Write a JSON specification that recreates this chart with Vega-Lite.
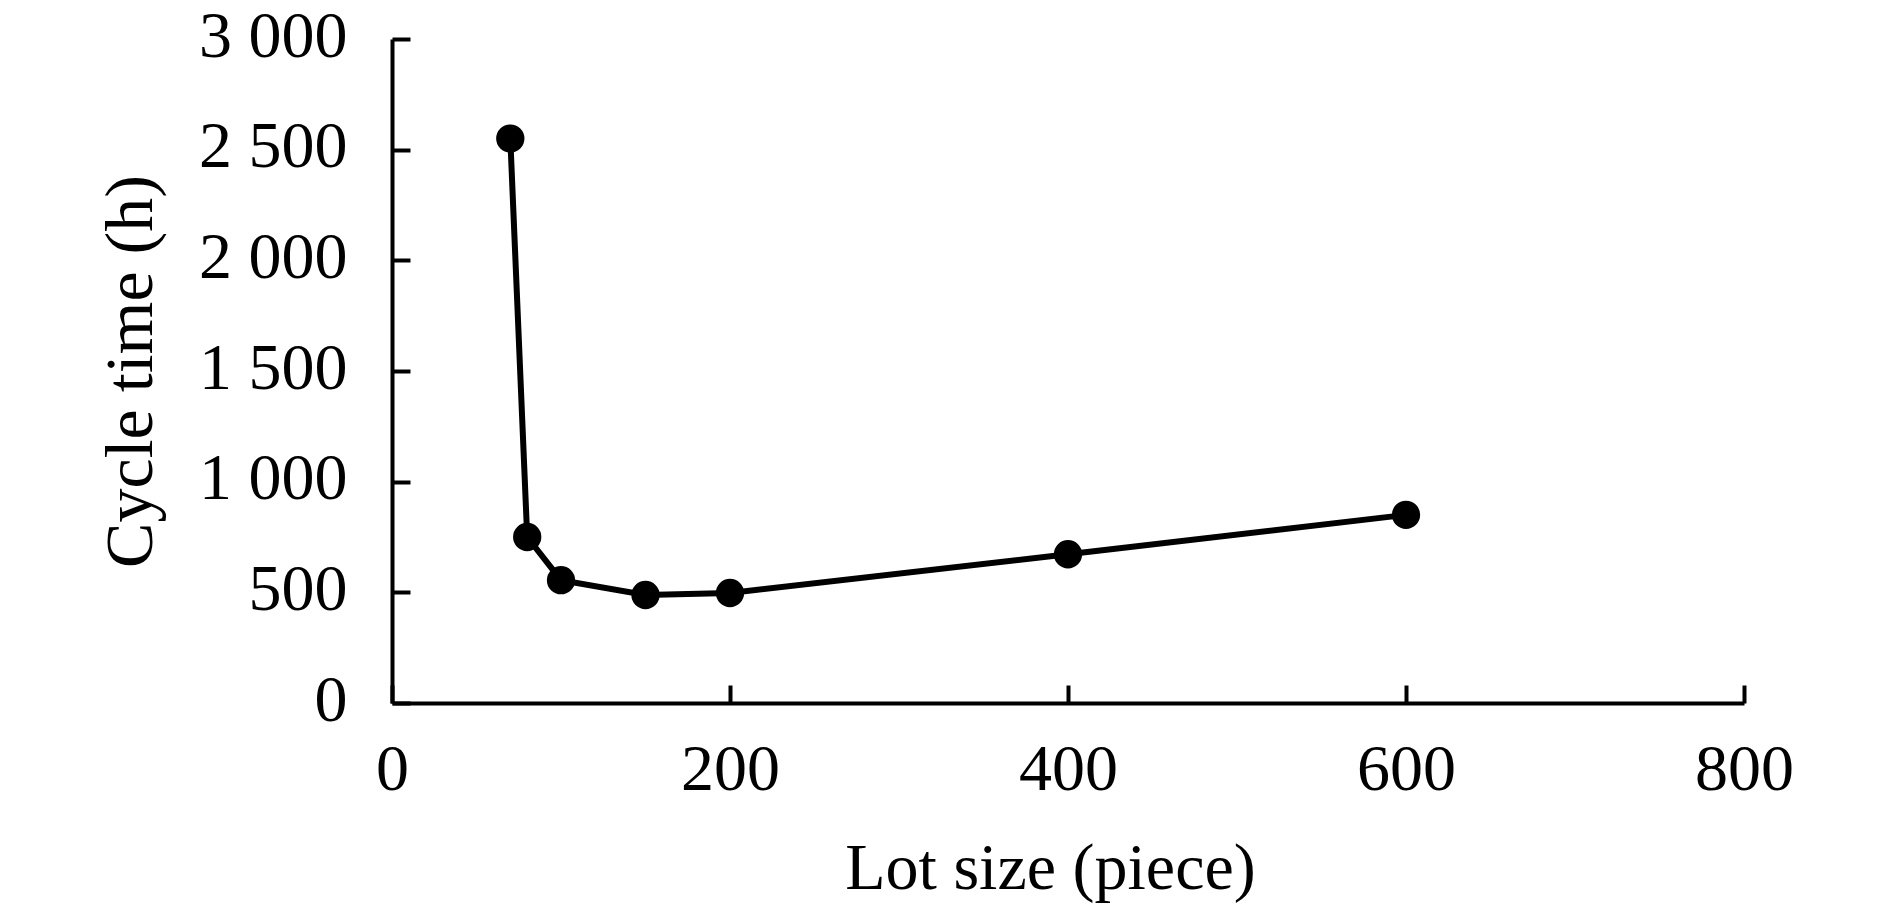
{
  "$schema": "https://vega.github.io/schema/vega-lite/v6.json",
  "description": "Cycle time against lot size.",
  "autosize": "none",
  "width": 1352,
  "height": 664,
  "padding": {"left": 392, "top": 39, "right": 146, "bottom": 206},
  "background": "white",
  "config": {
    "view": {"stroke": null},
    "font": "Liberation Serif",
    "axis": {
      "grid": false,
      "domainColor": "black",
      "domainWidth": 4,
      "tickColor": "black",
      "tickWidth": 4,
      "tickSize": -18,
      "labelColor": "black",
      "labelFont": "Liberation Serif",
      "labelFontSize": 66,
      "titleColor": "black",
      "titleFont": "Liberation Serif",
      "titleFontWeight": "normal"
    }
  },
  "data": {
    "values": [
      {"lot": 70, "cycle": 2550},
      {"lot": 80, "cycle": 750},
      {"lot": 100, "cycle": 555},
      {"lot": 150, "cycle": 488},
      {"lot": 200, "cycle": 497},
      {"lot": 400, "cycle": 672},
      {"lot": 600, "cycle": 850}
    ]
  },
  "encoding": {
    "x": {
      "field": "lot",
      "type": "quantitative",
      "title": "Lot size (piece)",
      "scale": {"domain": [0, 800], "nice": false},
      "axis": {
        "values": [0, 200, 400, 600, 800],
        "labelPadding": 52,
        "labelFlush": false,
        "titleFontSize": 66,
        "titleX": 658,
        "titleY": 185,
        "titleBaseline": "alphabetic"
      }
    },
    "y": {
      "field": "cycle",
      "type": "quantitative",
      "title": "Cycle time (h)",
      "scale": {"domain": [0, 3000], "nice": false},
      "axis": {
        "values": [0, 500, 1000, 1500, 2000, 2500, 3000],
        "labelExpr": "replace(format(datum.value, ','), ',', ' ')",
        "labelPadding": 63,
        "labelOffset": -3,
        "labelFlush": false,
        "titleFontSize": 68,
        "titleAngle": 270,
        "titleX": -241,
        "titleY": 332,
        "titleAlign": "center",
        "titleBaseline": "alphabetic"
      }
    }
  },
  "layer": [
    {
      "mark": {"type": "line", "color": "black", "strokeWidth": 6}
    },
    {
      "mark": {"type": "circle", "color": "black", "opacity": 1, "size": 800}
    }
  ]
}
